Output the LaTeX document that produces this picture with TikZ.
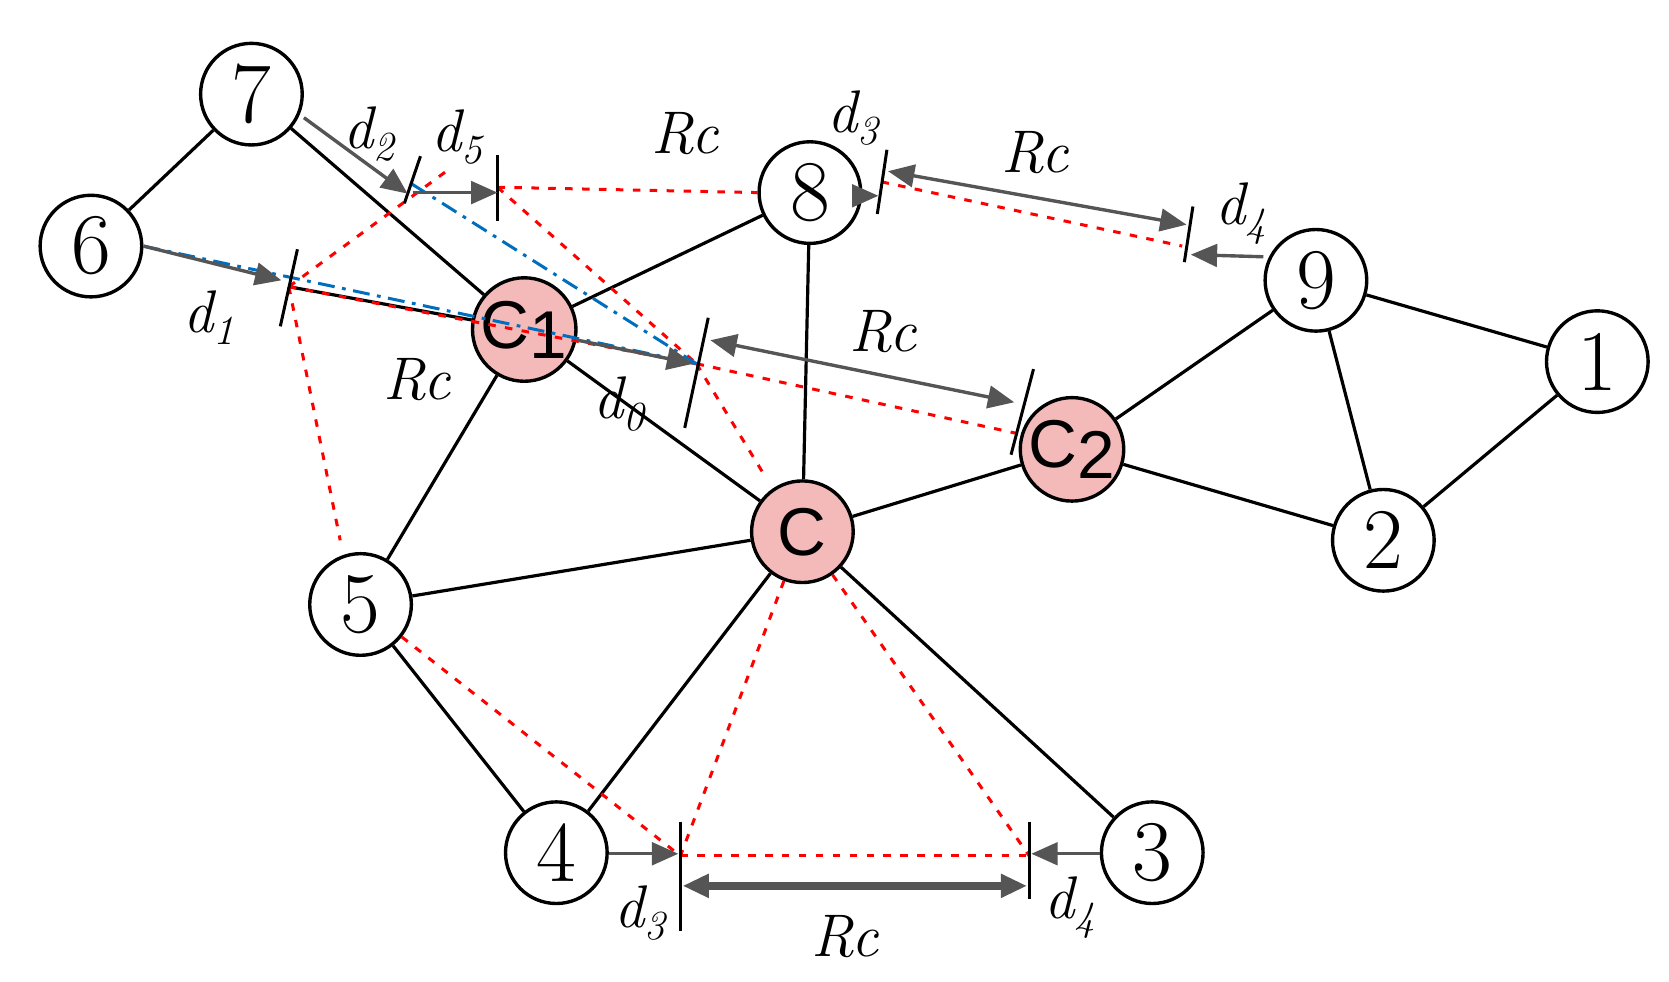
\documentclass[tikz,border=0pt]{standalone}
\usepackage{fontspec}
\newfontfamily\sans{Liberation Sans}
\usetikzlibrary{arrows.meta}
\definecolor{pinkf}{RGB}{244,186,186}
\definecolor{arrg}{RGB}{85,85,85}
\definecolor{bl}{RGB}{0,110,190}
\begin{document}
\begin{tikzpicture}[x=0.02cm,y=-0.02cm,
  nd/.style={circle,draw,line width=1.8pt,minimum size=1.9cm,inner sep=0pt,fill=white,font=\fontsize{46}{46}\selectfont},
  cn/.style={nd,fill=pinkf,font=\sans\fontsize{36}{36}\selectfont},
  ed/.style={line width=1.7pt},
  rd/.style={red,line width=1.6pt,dash pattern=on 4pt off 5pt},
  bd/.style={bl,line width=1.6pt,dash pattern=on 9pt off 4pt on 2pt off 4pt},
  ga/.style={arrg,line width=1.8pt,-{Triangle[length=14pt,width=12pt]}},
  gd/.style={arrg,line width=1.8pt,{Triangle[length=14pt,width=12pt]}-{Triangle[length=14pt,width=12pt]}},
  tk/.style={line width=1.6pt},
  lb/.style={font=\itshape\fontsize{32}{32}\selectfont}]
\useasboundingbox (0,0) rectangle (1560,917);
% nodes
\node[nd] (n7) at (235,88) {7};
\node[nd] (n6) at (85,230) {6};
\node[nd] (n8) at (757,180) {8};
\node[nd] (n9) at (1230,262) {9};
\node[nd] (n1) at (1493,338) {1};
\node[nd] (n2) at (1293,505) {2};
\node[nd] (n5) at (337,565) {5};
\node[nd] (n4) at (520,797) {4};
\node[nd] (n3) at (1077,797) {3};
\node[cn] (c1) at (490,308) {C\raisebox{-0.15em}{1}};
\node[cn] (c) at (750,497) {C};
\node[cn] (c2) at (1002,420) {C\raisebox{-0.15em}{2}};
% tick coordinates
\coordinate (t1) at (270,268);
\coordinate (t2) at (385,172);
\coordinate (t5) at (465,175);
\coordinate (t8) at (824,170);
\coordinate (t9) at (1111,220);
\coordinate (t0) at (651,340);
\coordinate (tc) at (955,385);
\coordinate (t4) at (636,800);
\coordinate (t3) at (962,800);
% black edges
\draw[ed] (n6) -- (n7);
\draw[ed] (n7) -- (c1);
\draw[ed] (t1) -- (c1);
\draw[ed] (c1) -- (n8);
\draw[ed] (c1) -- (n5);
\draw[ed] (c1) -- (c);
\draw[ed] (n8) -- (c);
\draw[ed] (c) -- (c2);
\draw[ed] (c2) -- (n9);
\draw[ed] (n9) -- (n1);
\draw[ed] (n9) -- (n2);
\draw[ed] (c2) -- (n2);
\draw[ed] (n2) -- (n1);
\draw[ed] (c) -- (n5);
\draw[ed] (c) -- (n4);
\draw[ed] (c) -- (n3);
\draw[ed] (n5) -- (n4);
% red dotted
\draw[rd] (t5) -- (n8.west);
\draw[rd] (t5) -- (t0);
\draw[rd] (t1) -- (420,158);
\draw[rd] (t1) -- (318,505);
\draw[rd] (t1) -- (t0);
\draw[rd] (t0) -- (715,445);
\draw[rd] (t0) -- (950,405);
\draw[rd] (t8) -- (1105,230);
\draw[rd] (n5) -- (t4);
\draw[rd] (c) -- (t4);
\draw[rd] (c) -- (t3);
\draw[rd] (t4) -- (t3);
% blue dash-dot
\draw[bd] (n6.east) -- (t0);
\draw[bd] (t2) -- (t0);
% ticks
\draw[tk] (262,305) -- (278,233);
\draw[tk] (378,190) -- (393,146);
\draw[tk] (465,145) -- (465,207);
\draw[tk] (820,200) -- (829,140);
\draw[tk] (1107,245) -- (1115,193);
\draw[tk] (640,400) -- (662,297);
\draw[tk] (945,425) -- (966,345);
\draw[tk] (636,768) -- (636,870);
\draw[tk] (962,768) -- (962,840);
% gray arrows
\draw[ga] (n6.east) -- (263,262);
\draw[ga] (n7.east) ++(0,22) -- (381,181);
\draw[ga] (386,180) -- (t5 |- 0,180);
\draw[ga] (n8.east) ++(0,3) -- (821,183);
\draw[gd] (830,160) -- (1109,210);
\draw[ga] (n9.west) ++(0,-22) -- (1113,238);
\draw[ga] (c1.east) ++(0,10) -- (648,340);
\draw[gd] (664,318) -- (948,376);
\draw[ga] (n4.east) ++(0,1) -- (634,798);
\draw[ga] (n3.west) ++(0,1) -- (964,798);
\draw[gd,line width=4pt] (638,828) -- (960,828);
% labels
\node[lb] (l1) at (345,125) {d\raisebox{-0.2em}{\fontsize{22}{22}\selectfont 2}};
\node[lb] (l2) at (427,128) {d\raisebox{-0.2em}{\fontsize{22}{22}\selectfont 5}};
\node[lb] (l3) at (640,125) {Rc};
\node[lb] (l4) at (797,110) {d\raisebox{-0.2em}{\fontsize{22}{22}\selectfont 3}};
\node[lb] (l5) at (967,143) {Rc};
\node[lb] (l6) at (1160,200) {d\raisebox{-0.2em}{\fontsize{22}{22}\selectfont 4}};
\node[lb] (l7) at (195,297) {d\raisebox{-0.2em}{\fontsize{22}{22}\selectfont 1}};
\node[lb] (l8) at (390,355) {Rc};
\node[lb] (l9) at (578,378) {d\raisebox{-0.2em}{\fontsize{22}{22}\selectfont 0}};
\node[lb] (l10) at (825,310) {Rc};
\node[lb] (l11) at (598,853) {d\raisebox{-0.2em}{\fontsize{22}{22}\selectfont 3}};
\node[lb] (l12) at (790,875) {Rc};
\node[lb] (l13) at (1000,848) {d\raisebox{-0.2em}{\fontsize{22}{22}\selectfont 4}};
\end{tikzpicture}
\end{document}
